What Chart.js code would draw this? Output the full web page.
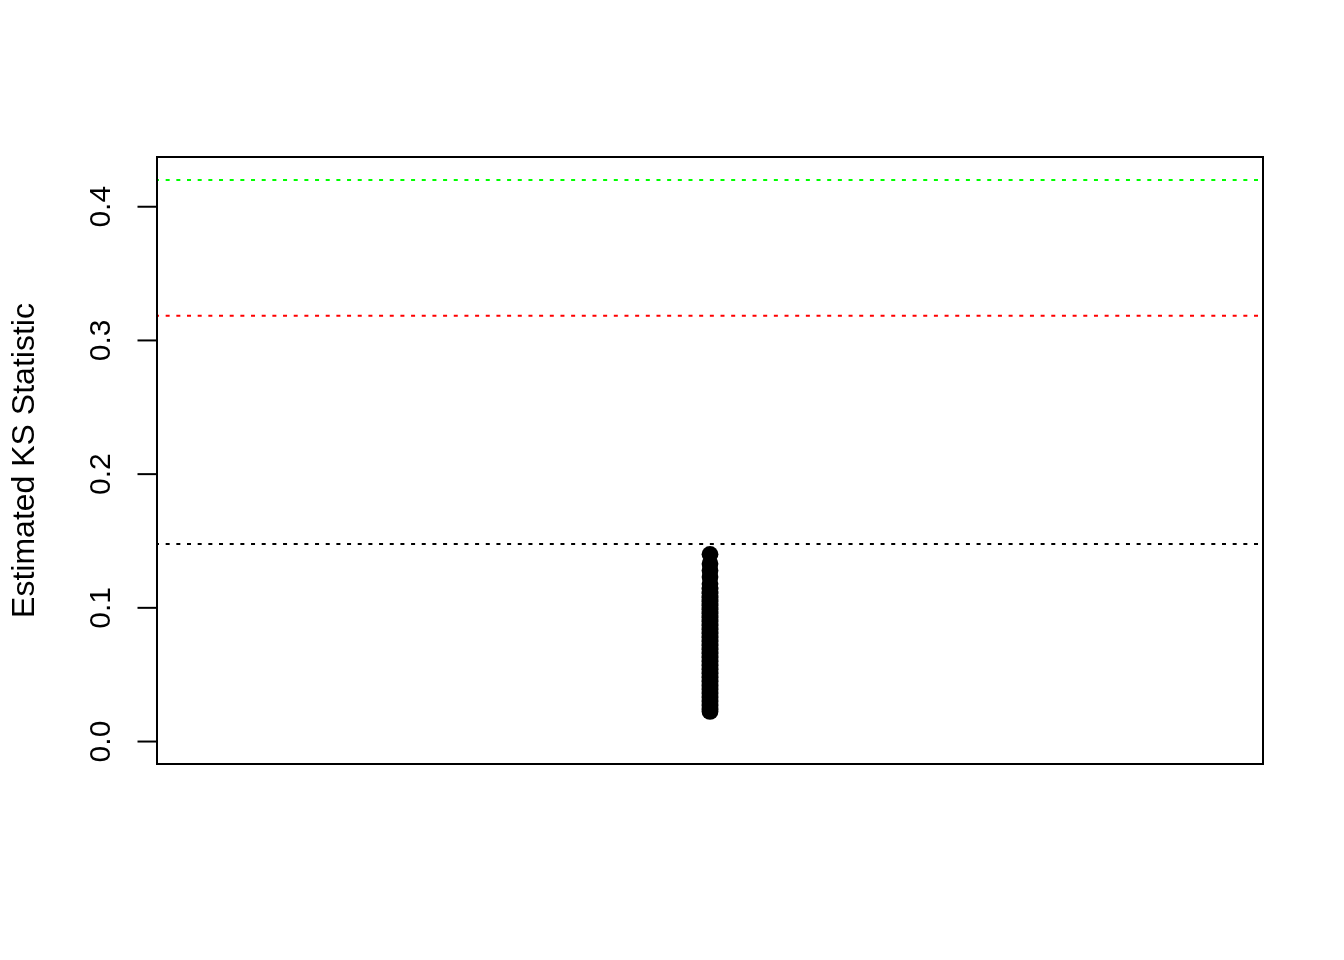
<!DOCTYPE html>
<html>
<head>
<meta charset="utf-8">
<script src="https://cdn.jsdelivr.net/npm/chart.js@4.4.1/dist/chart.umd.min.js"></script>
<style>
html,body{margin:0;padding:0;background:#fff;}
#wrap{width:1344px;height:960px;position:relative;}
</style>
</head>
<body>
<div id="wrap"><canvas id="c" width="1344" height="960"></canvas></div>
<script>
// ---- data ----
const stripX = 1;
const ksValues = [
  0.140, 0.133, 0.128, 0.123, 0.118, 0.115, 0.114, 0.112, 0.111, 0.109,
  0.108, 0.106, 0.105, 0.103, 0.102, 0.100, 0.099, 0.097, 0.096, 0.094,
  0.093, 0.091, 0.090, 0.088, 0.087, 0.085, 0.084, 0.082, 0.081, 0.079,
  0.078, 0.076, 0.075, 0.073, 0.072, 0.070, 0.069, 0.067, 0.066, 0.064,
  0.063, 0.061, 0.060, 0.058, 0.057, 0.055, 0.054, 0.052, 0.051, 0.049,
  0.048, 0.046, 0.045, 0.043, 0.042, 0.040, 0.039, 0.037, 0.036, 0.034,
  0.033, 0.031, 0.030, 0.028, 0.027, 0.025, 0.024, 0.0225
];
const refValues = [0.420, 0.3185, 0.1477];
const refColors = ['#00ff00', '#ff0000', '#000000'];
const yTicks = [0.0, 0.1, 0.2, 0.3, 0.4];
const yTickLabels = ['0.0', '0.1', '0.2', '0.3', '0.4'];
const yTitle = 'Estimated KS Statistic';
const xMin = 0.5, xMax = 1.5;
const yMin = -0.0168, yMax = 0.4372;

const FONT = '"Liberation Sans", Arial, Helvetica, sans-serif';

const datasets = [];
refValues.forEach((v, i) => {
  datasets.push({
    type: 'line',
    data: [{x: xMin, y: v}, {x: xMax, y: v}],
    borderColor: refColors[i],
    borderWidth: 2,
    borderDash: [4, 6.67],
    borderDashOffset: 2,
    pointRadius: 0,
    fill: false
  });
});
datasets.push({
  type: 'scatter',
  data: ksValues.map(v => ({x: stripX, y: v})),
  backgroundColor: '#000000',
  borderColor: '#000000',
  borderWidth: 0,
  pointRadius: 8.4,
  pointHoverRadius: 8.4
});

const axisPlugin = {
  id: 'rAxis',
  afterDraw(chart) {
    const ctx = chart.ctx;
    const a = chart.chartArea;
    const ys = chart.scales.y;
    ctx.save();
    ctx.strokeStyle = '#000';
    ctx.lineWidth = 2;
    ctx.strokeRect(a.left, a.top, a.right - a.left, a.bottom - a.top);
    ctx.fillStyle = '#000';
    ctx.font = '30px ' + FONT;
    yTicks.forEach((t, i) => {
      const py = ys.getPixelForValue(t);
      ctx.beginPath();
      ctx.moveTo(a.left - 19.5, py);
      ctx.lineTo(a.left, py);
      ctx.stroke();
      ctx.save();
      ctx.translate(110, py);
      ctx.rotate(-Math.PI / 2);
      ctx.textAlign = 'center';
      ctx.textBaseline = 'alphabetic';
      ctx.fillText(yTickLabels[i], 0, 0);
      ctx.restore();
    });
    ctx.save();
    ctx.font = '32px ' + FONT;
    ctx.translate(34, (a.top + a.bottom) / 2);
    ctx.rotate(-Math.PI / 2);
    ctx.textAlign = 'center';
    ctx.textBaseline = 'alphabetic';
    ctx.fillText(yTitle, 0, 0);
    ctx.restore();
    ctx.restore();
  }
};

new Chart(document.getElementById('c'), {
  type: 'scatter',
  data: { datasets },
  options: {
    responsive: false,
    devicePixelRatio: 1,
    animation: false,
    layout: { padding: { left: 157, right: 81, top: 157, bottom: 196 } },
    plugins: { legend: { display: false }, tooltip: { enabled: false } },
    scales: {
      x: { type: 'linear', min: xMin, max: xMax, display: false },
      y: { type: 'linear', min: yMin, max: yMax, display: false }
    }
  },
  plugins: [axisPlugin]
});
</script>
</body>
</html>
